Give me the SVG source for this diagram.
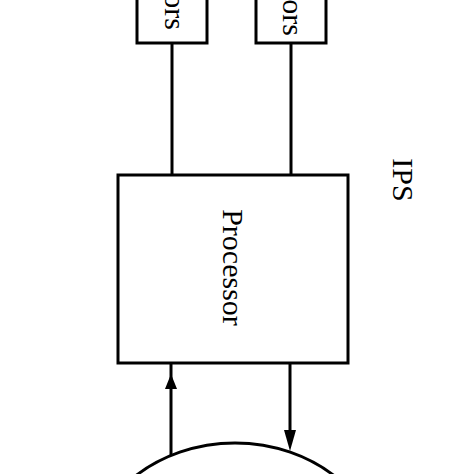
<svg xmlns="http://www.w3.org/2000/svg" width="474" height="474" viewBox="0 0 474 474">
<style>
.box{fill:#fff;stroke:#000;stroke-width:3}
.ln{stroke:#000;stroke-width:3;fill:none}
.t{font-family:"Liberation Serif","Times New Roman",serif;font-size:30px;fill:#000}
</style>
<rect width="474" height="474" fill="#fff"/>
<g id="connectors">
<line class="ln" x1="172" y1="43" x2="172" y2="175"/>
<line class="ln" x1="291" y1="43" x2="291" y2="175"/>
<line class="ln" x1="171" y1="455" x2="171" y2="363"/>
<polygon points="171,374 165,389 177,389" fill="#000"/>
<line class="ln" x1="290" y1="363" x2="290" y2="440"/>
<polygon points="290,451 284,430 296,430" fill="#000"/>
</g>
<g id="node-left">
<rect class="box" x="137" y="-20" width="70" height="63"/>
<text class="t" text-anchor="end" transform="translate(165,30) rotate(90)">ors</text>
</g>
<g id="node-right">
<rect class="box" x="256" y="-20" width="70" height="63"/>
<text class="t" text-anchor="end" transform="translate(283,36) rotate(90)">ors</text>
</g>
<g id="node-processor">
<rect class="box" x="118" y="175" width="230" height="188"/>
<text class="t" text-anchor="middle" transform="translate(223,267.5) rotate(90)">Processor</text>
</g>
<g id="node-ellipse">
<ellipse class="ln" cx="235" cy="574" rx="150" ry="131"/>
</g>
<g id="label-ips">
<text class="t" text-anchor="middle" transform="translate(393,180) rotate(90)">IPS</text>
</g>
</svg>
